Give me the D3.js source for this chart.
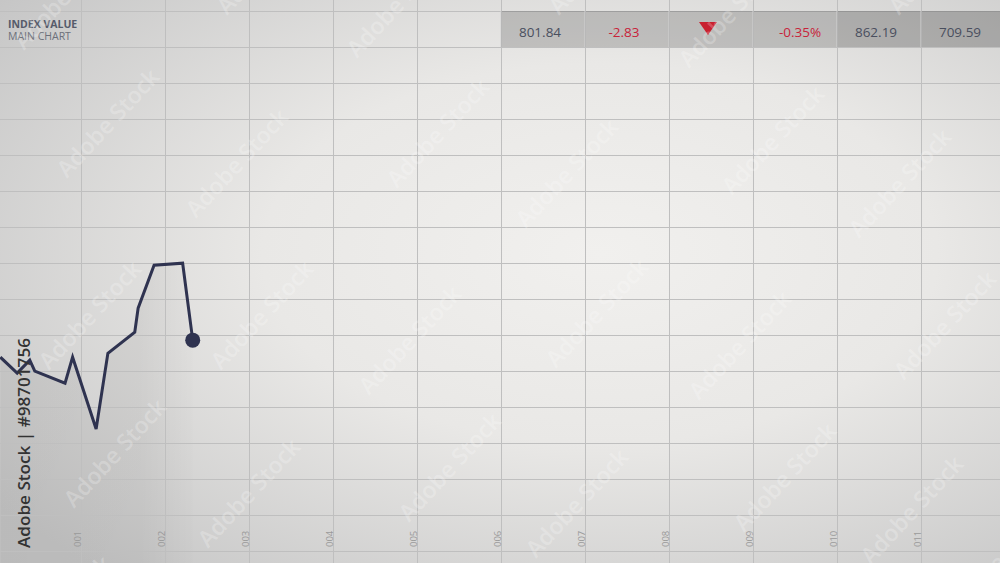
<!DOCTYPE html>
<html>
<head>
<meta charset="utf-8">
<script src="https://cdn.jsdelivr.net/npm/d3@7"></script>
<style>
  html, body { margin: 0; padding: 0; background: #e8e8e6; }
  svg { display: block; font-family: "Open Sans", "Noto Sans", sans-serif; }
</style>
</head>
<body>
<svg id="chart" width="1000" height="563"></svg>
<script>
// ---- data ----
const tickLabels = ["001","002","003","004","005","006","007","008","009","010","011"];
const tickValues = [1,2,3,4,5,6,7,8,9,10,11];
const seriesT = [0.04, 0.24, 0.39, 0.45, 0.81, 0.90, 1.18, 1.32, 1.64, 1.68, 1.87, 2.21, 2.33];
const seriesV = [788.5, 776.0, 786.2, 777.5, 768.1, 788.5, 732.1, 791.6, 808.1, 826.9, 860.6, 862.19, 801.84];
const headerTitle = "INDEX VALUE";
const headerSub = "MAIN CHART";
const statTexts = ["801.84", "-2.83", "", "-0.35%", "862.19", "709.59"];
const statKinds = ["value", "neg", "arrow", "neg", "value", "value"];
const watermark = "Adobe Stock | #98701756";
const stampText = "Adobe Stock";

// ---- layout (decorative watermark spots, pixel positions) ----
const stampSpots = [
  [65, -5], [268, -40], [398, 3], [600, -40], [730, 13], [940, -40],
  [108, 123], [237, 163], [438, 133], [567, 173], [773, 140], [900, 183],
  [90, 315], [262, 315], [410, 340], [597, 313], [740, 345], [945, 325],
  [115, 453], [249, 493], [450, 467], [577, 503], [785, 477], [912, 510],
  [60, 610], [370, 625], [690, 625], [1000, 560]
];

// ---- setup ----
const W = 1000, H = 563;
const svg = d3.select("#chart");
const defs = svg.append("defs");

const bg = defs.append("radialGradient").attr("id", "bg")
  .attr("cx", "60%").attr("cy", "45%").attr("r", "75%");
bg.append("stop").attr("offset", "0%").attr("stop-color", "#f1f0ee");
bg.append("stop").attr("offset", "45%").attr("stop-color", "#e9e8e6");
bg.append("stop").attr("offset", "100%").attr("stop-color", "#c6c6c6");
svg.append("rect").attr("width", W).attr("height", H).attr("fill", "url(#bg)");

const x = d3.scaleLinear().domain([1, 11]).range([81, 921]);
const y = d3.scaleLinear().domain([700, 900]).range([470, 215]);
const row = d3.scaleLinear().domain([0, 15]).range([11, 551]);

const pts = seriesT.map((t, i) => [t, seriesV[i]]);
const last = pts[pts.length - 1];

// area shading under the line, fading toward the right
const areaGrad = defs.append("linearGradient").attr("id", "areaGrad")
  .attr("gradientUnits", "userSpaceOnUse")
  .attr("x1", 0).attr("y1", 0).attr("x2", x(last[0]) + 8).attr("y2", 0);
areaGrad.append("stop").attr("offset", "0%").attr("stop-color", "#000").attr("stop-opacity", 0.06);
areaGrad.append("stop").attr("offset", "70%").attr("stop-color", "#000").attr("stop-opacity", 0.05);
areaGrad.append("stop").attr("offset", "100%").attr("stop-color", "#000").attr("stop-opacity", 0.0);

svg.append("path").datum(pts)
  .attr("fill", "url(#areaGrad)")
  .attr("d", d3.area().x(d => x(d[0])).y0(H).y1(d => y(d[1])));

// horizontal grid
const hg = svg.append("g")
  .call(d3.axisLeft(row).tickValues(d3.range(0, 16)).tickSize(-W).tickFormat(""));
hg.select(".domain").remove();
hg.selectAll(".tick line").attr("stroke", "#bfbfbf").attr("stroke-width", 1);

// vertical grid + labels
const vg = svg.append("g").attr("transform", `translate(0,${H})`)
  .call(d3.axisBottom(x).tickValues(d3.range(0, 13)).tickSizeInner(-H).tickSizeOuter(0)
    .tickFormat(d => (tickValues.indexOf(d) >= 0 ? tickLabels[tickValues.indexOf(d)] : "")));
vg.select(".domain").remove();
vg.selectAll(".tick line").attr("stroke", "#bfbfbf").attr("stroke-width", 1);
vg.selectAll(".tick text")
  .attr("transform", "rotate(-90)")
  .attr("x", 16).attr("y", -1).attr("dy", 0)
  .attr("text-anchor", "start")
  .attr("fill", "#9a9a9a")
  .style("font-size", "9.5px")
  .style("font-family", "'Open Sans', sans-serif");

// stats bar
const statG = svg.append("g");
statTexts.forEach((s, i) => {
  const x0 = x(6 + i), x1 = Math.min(x(7 + i), W);
  statG.append("rect")
    .attr("x", x0).attr("y", row(0)).attr("width", x1 - x0).attr("height", row(1) - row(0))
    .attr("fill", "#000").attr("fill-opacity", i >= 4 ? 0.22 : 0.17);
  statG.append("line")
    .attr("x1", x0).attr("x2", x0).attr("y1", row(0)).attr("y2", row(1))
    .attr("stroke", "#d2d2d2").attr("stroke-width", 1);
  const cx = (x0 + x(7 + i)) / 2 + (i === 3 ? 5 : -3);
  if (statKinds[i] === "arrow") {
    statG.append("path")
      .attr("transform", `translate(${cx},${(row(0) + row(1)) / 2 - 1})`)
      .attr("d", "M-9,-6L9,-6L0,7Z")
      .attr("fill", "#c8202f");
  } else {
    statG.append("text")
      .attr("x", cx).attr("y", 36.5)
      .attr("text-anchor", "middle")
      .attr("fill", statKinds[i] === "neg" ? "#c8233a" : "#4a4f5e")
      .style("font-size", "13.5px")
      .text(s);
  }
});

// header text
svg.append("text").attr("x", 8).attr("y", 27.5)
  .attr("fill", "#565b6a").style("font-size", "10.5px").style("font-weight", "700")
  .text(headerTitle);
svg.append("text").attr("x", 8).attr("y", 39.5)
  .attr("fill", "#6c707a").style("font-size", "10.5px")
  .text(headerSub);

// faint diagonal stock stamps
const wmG = svg.append("g").attr("fill", "#ffffff").attr("fill-opacity", 0.24)
  .style("font-size", "23px").style("font-weight", "600");
wmG.selectAll("text").data(stampSpots).join("text")
  .attr("transform", d => `translate(${d[0]},${d[1]}) rotate(-47)`)
  .attr("text-anchor", "middle")
  .attr("dy", "0.35em")
  .text(stampText);

// line
svg.append("path").datum(pts)
  .attr("fill", "none")
  .attr("stroke", "#2f3350")
  .attr("stroke-width", 3)
  .attr("stroke-linejoin", "miter")
  .attr("d", d3.line().x(d => x(d[0])).y(d => y(d[1])));

svg.append("circle")
  .attr("cx", x(last[0])).attr("cy", y(last[1])).attr("r", 7.5)
  .attr("fill", "#2f3350");

// vertical watermark text
svg.append("text")
  .attr("transform", "translate(30,548) rotate(-90)")
  .attr("text-anchor", "start")
  .attr("fill", "#333333")
  .style("font-size", "17px").style("font-weight", "600")
  .attr("textLength", 210).attr("lengthAdjust", "spacingAndGlyphs")
  .text(watermark);
</script>
</body>
</html>
